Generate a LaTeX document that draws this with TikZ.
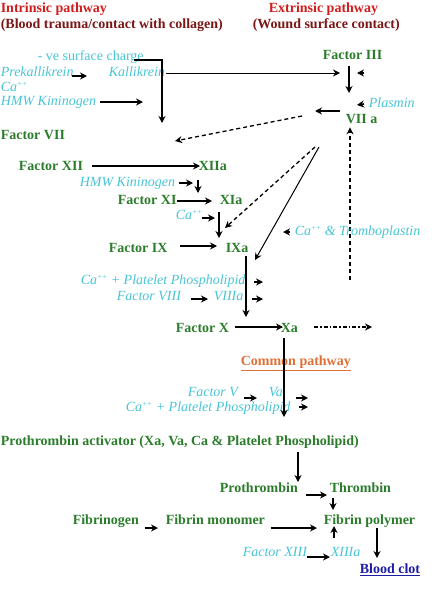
\documentclass[tikz,border=0pt]{standalone}
\usepackage{fontspec}
\setmainfont{Liberation Serif}
\usetikzlibrary{
	arrows.meta,
	positioning
}
\definecolor{headred}{HTML}{D01E1E}
\definecolor{headdark}{HTML}{7A1616}
\definecolor{facgreen}{HTML}{2B7D2B}
\definecolor{cofcyan}{HTML}{48C4D6}
\definecolor{comorange}{HTML}{DD7035}
\definecolor{clotblue}{HTML}{1C1CA8}
\tikzset{every path/.append style={line width=1.6pt}}
\tikzset{every path/.append style={>={Stealth[length=7pt,width=7pt]}}}
\tikzset{
	txt/.style={anchor=west,inner sep=0pt,text height=10pt,text depth=3pt,font=\fontsize{14}{16}\selectfont},
	head/.style={txt,font=\fontsize{14}{16}\selectfont\bfseries,text=headred},
	headsub/.style={head,text=headdark},
	fac/.style={txt,font=\fontsize{14}{16}\selectfont\bfseries,text=facgreen},
	cof/.style={txt,font=\fontsize{14}{16}\selectfont\itshape,text=cofcyan},
	thin/.style={line width=1pt},
	dashline/.style={line width=1.3pt,dash pattern=on 4pt off 3pt},
	dashdotline/.style={line width=1.3pt,dash pattern=on 4pt off 2pt on 1.5pt off 2pt}
}
\newcommand{\tikzTxt}[4][]{\node (#3) at #2 [#1]{#4};}
\newcommand{\caPlus}{Ca\raisebox{5pt}{\fontsize{7.5}{8}\selectfont ++}}

\begin{document}
\begin{tikzpicture}[x=1pt,y=-1pt]
	\useasboundingbox (0,0) rectangle (431,613);
	
	\tikzTxt[head]{(0,9)}{hIn}{Intrinsic pathway};
	\tikzTxt[headsub]{(0,25)}{hInSub}{(Blood trauma/contact with collagen)};
	\tikzTxt[head]{(268,9)}{hEx}{Extrinsic pathway};
	\tikzTxt[headsub]{(252,25)}{hExSub}{(Wound surface contact)};
	
	% intrinsic start
	\tikzTxt[cof,font=\fontsize{14}{16}\selectfont]{(37,57)}{charge}{- ve surface charge};
	\tikzTxt[cof]{(0,73)}{prek}{Prekallikrein};
	\tikzTxt[cof]{(108,73)}{kal}{Kallikrein};
	\tikzTxt[cof]{(0,88)}{ca1}{\caPlus};
	\tikzTxt[cof]{(0,102)}{hmw1}{HMW Kininogen};
	\tikzTxt[fac]{(0,136)}{f7}{Factor VII};
	
	% extrinsic start
	\tikzTxt[fac]{(322,56)}{f3}{Factor III};
	\tikzTxt[cof]{(368,104)}{plas}{Plasmin};
	\tikzTxt[fac]{(345,120)}{f7a}{VII a};
	
	\coordinate (kalIn) at (162,123);
	\coordinate (prekOut) at (87,76);
	\coordinate (kalOut) at (340,73);
	\coordinate (hmwOut) at (143,102);
	\coordinate (f3Out) at (349,93);
	\coordinate (stubA) at (364,73);
	\coordinate (stubAOut) at (357,73);
	\coordinate (stubBOut) at (357,105);
	\coordinate (f7aOut) at (315,111);
	\coordinate (dashA) at (302,116);
	\coordinate (dashAOut) at (175,141);
	\coordinate (dashV) at (350,280);
	\coordinate (forkA) at (315,147);
	\coordinate (forkAOut) at (225,228);
	\coordinate (forkB) at (319,147);
	\coordinate (forkBOut) at (255,260);
	
	\draw[->] ([xshift=-10pt,yshift=-3pt]charge.east) -| (kalIn);
	\draw[->] ([xshift=-2pt,yshift=-3pt]prek.east) -- (prekOut);
	\draw[->,thin] (kal.east) -- (kalOut);
	\draw[->] ([xshift=3pt]hmw1.east) -- (hmwOut);
	\draw[->,shorten <=3pt] (f3.south -| f3Out) -- (f3Out);
	\draw[->] (stubA) -- (stubAOut);
	\draw[->] ([xshift=-4pt]plas.west) -- (stubBOut);
	\draw[->] ([xshift=-5pt,yshift=9pt]f7a.west) -- (f7aOut);
	\draw[->,dashline] (dashV) -- (dashV |- f7a.south);
	\draw[->,dashline] (dashA) -- (dashAOut);
	\draw[->,dashline] (forkA) -- (forkAOut);
	\draw[->,thin] (forkB) -- (forkBOut);
	
	% cascade
	\tikzTxt[fac]{(18,167)}{f12}{Factor XII};
	\tikzTxt[fac]{(198,167)}{f12a}{XIIa};
	\tikzTxt[cof]{(79,183)}{hmw2}{HMW Kininogen};
	\tikzTxt[fac]{(117,201)}{f11}{Factor XI};
	\tikzTxt[fac]{(219,201)}{f11a}{XIa};
	\tikzTxt[cof]{(175,216)}{ca2}{\caPlus};
	\tikzTxt[cof]{(294,232)}{caTh}{\caPlus{} \& Tromboplastin};
	\tikzTxt[fac]{(108,249)}{f9}{Factor IX};
	\tikzTxt[fac]{(225,249)}{f9a}{IXa};
	\tikzTxt[cof]{(80,281)}{pp1}{\caPlus{} + Platelet Phospholipid};
	\tikzTxt[cof]{(116,297)}{f8}{Factor VIII};
	\tikzTxt[cof]{(213,297)}{f8a}{VIIIa};
	\tikzTxt[fac]{(175,329)}{f10}{Factor X};
	\tikzTxt[fac]{(280,329)}{f10a}{Xa};
	
	\coordinate (hmw2Out) at (193,183);
	\coordinate (f12aOut) at (198,193);
	\coordinate (ca2Out) at (215,218);
	\coordinate (f11aOut) at (219,238);
	\coordinate (stubCOut) at (283,232);
	\coordinate (f9aOut) at (246,317);
	\coordinate (pp1Out) at (263,282);
	\coordinate (f8aOut) at (263,299);
	\coordinate (dashX) at (314,327);
	\coordinate (dashXOut) at (372,327);
	
	\draw[->] ([xshift=8pt,yshift=1pt]f12.east) -- ([xshift=2pt,yshift=1pt]f12a.west);
	\draw[->] ([xshift=3pt]hmw2.east) -- (hmw2Out);
	\draw[->,shorten <=6pt] (f12a.south west) -- (f12aOut);
	\draw[->] (f11.east) -- ([xshift=-7pt]f11a.west);
	\draw[->] ([xshift=-1pt,yshift=-2pt]ca2.east) -- (ca2Out);
	\draw[->,shorten <=4pt] (f11a.south west) -- (f11aOut);
	\draw[->] ([xshift=-4pt]caTh.west) -- (stubCOut);
	\draw[->] ([xshift=12pt,yshift=3pt]f9.east) -- ([xshift=-8pt,yshift=3pt]f9a.west);
	\draw[->] (f9a.south -| f9aOut) -- (f9aOut);
	\draw[->] ([xshift=8pt,yshift=-1pt]pp1.east) -- (pp1Out);
	\draw[->] ([xshift=9pt,yshift=-2pt]f8.east) -- ([xshift=-5pt,yshift=-2pt]f8a.west);
	\draw[->] ([xshift=8pt,yshift=-2pt]f8a.east) -- (f8aOut);
	\draw[->] ([xshift=5pt,yshift=2pt]f10.east) -- ([xshift=3pt,yshift=2pt]f10a.west);
	\draw[->,dashdotline] (dashX) -- (dashXOut);
	
	% common pathway
	\tikzTxt[fac,text=comorange]{(240,362)}{common}{\underline{Common pathway}};
	\tikzTxt[cof]{(187,393)}{f5}{Factor V};
	\tikzTxt[cof]{(268,393)}{f5a}{Va};
	\tikzTxt[cof]{(125,408)}{pp2}{\caPlus{} + Platelet Phospholipid};
	\tikzTxt[fac]{(0,442)}{pta}{Prothrombin activator (Xa, Va, Ca \& Platelet Phospholipid)};
	\tikzTxt[fac]{(219,489)}{proth}{Prothrombin};
	\tikzTxt[fac]{(329,489)}{thr}{Thrombin};
	\tikzTxt[fac]{(72,521)}{fgen}{Fibrinogen};
	\tikzTxt[fac]{(165,521)}{fmono}{Fibrin monomer};
	\tikzTxt[fac]{(323,521)}{fpoly}{Fibrin polymer};
	\tikzTxt[cof]{(242,553)}{f13}{Factor XIII};
	\tikzTxt[cof]{(330,553)}{f13a}{XIIIa};
	\tikzTxt[fac,text=clotblue]{(359,570)}{clot}{\underline{Blood clot}};
	
	\coordinate (f10aOut) at (284,417);
	\coordinate (f5aOut) at (308,398);
	\coordinate (pp2Out) at (308,407);
	\coordinate (ptaOut) at (298,482);
	\coordinate (thrOut) at (333,510);
	\coordinate (f13aOut) at (334,526);
	\coordinate (fpolyOut) at (377,558);
	
	\draw[->,shorten <=2pt] (f10a.south -| f10aOut) -- (f10aOut);
	\draw[->] ([xshift=5pt,yshift=-5pt]f5.east) -- ([xshift=-11pt,yshift=-5pt]f5a.west);
	\draw[->] ([xshift=12pt,yshift=-5pt]f5a.east) -- (f5aOut);
	\draw[->] ([xshift=8pt,yshift=1pt]pp2.east) -- (pp2Out);
	\draw[->,shorten <=3pt] (pta.south -| ptaOut) -- (ptaOut);
	\draw[->] ([xshift=7pt,yshift=-6pt]proth.east) -- ([xshift=-2pt,yshift=-6pt]thr.west);
	\draw[->,shorten <=2pt] (thr.south -| thrOut) -- (thrOut);
	\draw[->] ([xshift=5pt,yshift=-7pt]fgen.east) -- ([xshift=-7pt,yshift=-7pt]fmono.west);
	\draw[->] ([xshift=5pt,yshift=-7pt]fmono.east) -- ([xshift=-6pt,yshift=-7pt]fpoly.west);
	\draw[->,shorten <=8pt] (f13a.north -| f13aOut) -- (f13aOut);
	\draw[->] (fpoly.south -| fpolyOut) -- (fpolyOut);
	\draw[->] ([xshift=-1pt,yshift=-4pt]f13.east) -- ([yshift=-4pt]f13a.west);
\end{tikzpicture}
\end{document}
